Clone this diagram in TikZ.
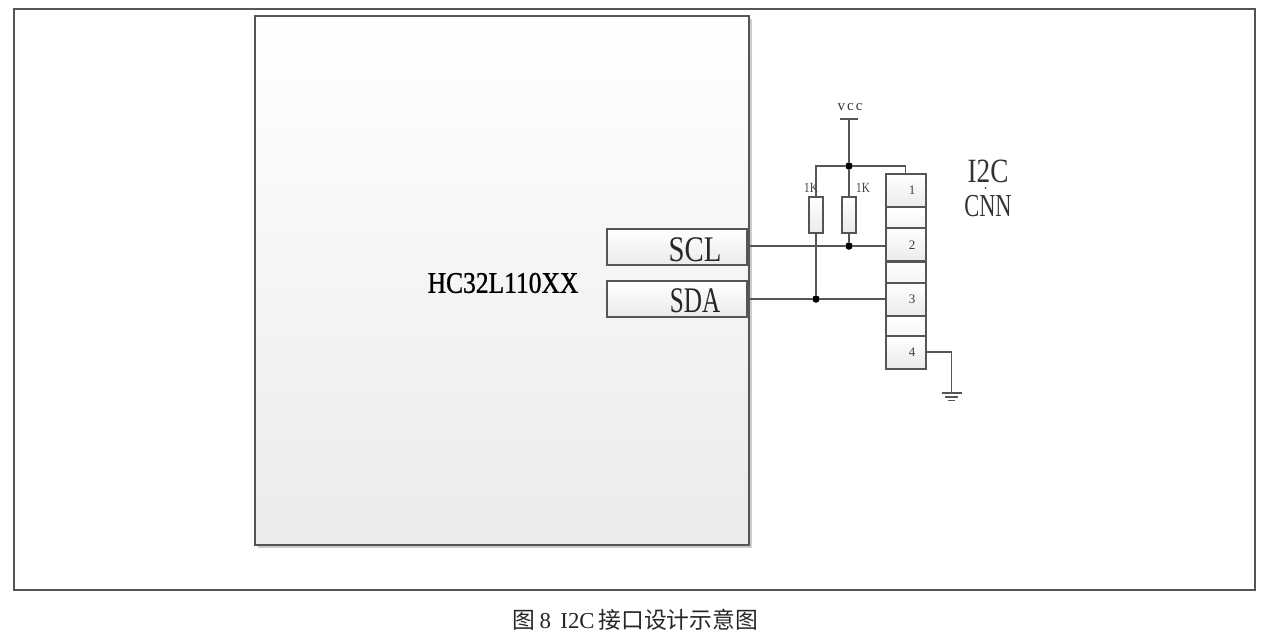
\documentclass[tikz,border=0pt]{standalone}
\usepackage{fontspec}
\setmainfont{Liberation Serif}
\newfontfamily\cjk{Noto Sans CJK SC}
\newfontfamily\tallfont[FakeStretch=.8]{Liberation Serif}
\newfontfamily\narrowfont[FakeStretch=.7]{Liberation Serif}
\newfontfamily\chipfont[FakeStretch=.85,FakeBold=1]{Liberation Serif}
\newfontfamily\vccfont[LetterSpace=14]{Liberation Serif}
\usetikzlibrary{shadows}
\definecolor{wire}{HTML}{555555}
\tikzset{
  box/.style={draw=wire, line width=2pt, inner sep=0pt, top color=white, bottom color=black!8},
  pinbox/.style={box, minimum width=40pt, minimum height=33pt},
  gapbox/.style={box, minimum width=40pt, minimum height=21pt, top color=white, bottom color=black!4},
  portbox/.style={box, minimum width=140pt, minimum height=36pt},
  resbox/.style={box, line width=1.6pt, minimum width=14pt, minimum height=36pt},
  dotnode/.style={circle, fill=black, inner sep=0pt, minimum size=7.5pt},
  wireline/.style={draw=wire, line width=1.6pt},
  pinlabel/.style={font=\fontsize{13}{13}\selectfont, text=black!75},
  smalllabel/.style={font=\tallfont\fontsize{14}{14}\selectfont, text=black!75},
}
\begin{document}
\begin{tikzpicture}[x=1pt, y=-1pt]
\useasboundingbox (0,0) rectangle (1277,641);
\draw[draw=wire, line width=1.4pt] (14,9) rectangle (1255,590);

% chip
\node[box, minimum width=494pt, minimum height=529pt, drop shadow={shadow xshift=3pt, shadow yshift=-3pt, opacity=.2, fill=black}] (chip) at (502,280.5) {};
\node[font=\chipfont\fontsize{30}{30}\selectfont] (chipname) at (503,283) {HC32L110XX};
\node[portbox] (scl) at (677,247) {};
\node[portbox] (sda) at (677,299) {};
\node[font=\tallfont\fontsize{36}{36}\selectfont, text=black!85] (sclname) at (695,250) {SCL};
\node[font=\narrowfont\fontsize{36}{36}\selectfont, text=black!85] (sdaname) at (695,301) {SDA};

% connector
\node[gapbox] (gap1) at (905.5,217.5) {};
\node[gapbox] (gap2) at (905.5,272) {};
\node[gapbox] (gap3) at (905.5,325.5) {};
\node[pinbox] (pin1) at (905.5,190.5) {};
\node[pinbox] (pin2) at (905.5,244.5) {};
\node[pinbox] (pin3) at (905.5,299) {};
\node[pinbox] (pin4) at (905.5,352) {};
\foreach \n/\y in {1/190,2/245,3/299,4/352}
  \node[pinlabel] (num\n) at (912,\y) {\n};
\node[font=\tallfont\fontsize{34}{34}\selectfont, text=black!80] (conname) at (988,171) {I2C};
\node[font=\narrowfont\fontsize{32}{32}\selectfont, text=black!80] (contype) at (988,206) {CNN};
\node[circle, fill=black!80, inner sep=0pt, minimum size=2pt] (condot) at (985.5,188) {};

% pull ups
\node[resbox] (resa) at (816,215) {};
\node[resbox] (resb) at (849,215) {};
\node[smalllabel] (resalabel) at (811,188) {1K};
\node[smalllabel] (resblabel) at (863,188) {1K};
\node[font=\vccfont\fontsize{15}{15}\selectfont, text=black!80] (vcc) at (850,107) {vcc};
\coordinate (vcctop) at (849,119);
\coordinate (vccleft) at (840,119);
\coordinate (vccright) at (858,119);
\node[dotnode] (jtop) at (849,166) {};
\node[dotnode] (jscl) at (849,246) {};
\node[dotnode] (jsda) at (816,299) {};
\coordinate (cornera) at (816,166);
\coordinate (cornerb) at (905.5,166);

\draw[wireline] (vccleft) -- (vccright);
\draw[wireline] (vcctop) -- (jtop) -- (resb.north);
\draw[wireline] (resa.north) -- (cornera) -- (jtop) -- (cornerb) -- (pin1.north);
\draw[wireline] (resb.south) -- (jscl);
\draw[wireline] (resa.south) -- (jsda);
\draw[wireline] (scl.east |- jscl) -- (jscl) -- (pin2.west |- jscl);
\draw[wireline] (sda.east) -- (jsda) -- (pin3.west);

% ground
\coordinate (gndcorner) at (951.5,352);
\coordinate (gndtop) at (951.5,393);
\draw[wireline] (pin4.east) -- (gndcorner) -- (gndtop);
\draw[wireline] (941.5,393) -- (961.5,393);
\draw[wireline] (945,397) -- (958,397);
\draw[wireline] (948,400.5) -- (955,400.5);

\node[font=\fontsize{22.8}{23}\selectfont, text=black!85] (caption) at (635.5,620) {{\cjk 图}\,8\, I2C\,{\cjk 接口设计示意图}};
\end{tikzpicture}
\end{document}
